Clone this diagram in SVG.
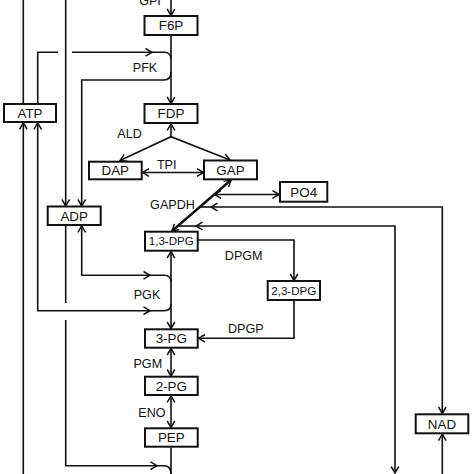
<svg xmlns="http://www.w3.org/2000/svg" width="474" height="474" viewBox="0 0 474 474">
<style>
.box rect{fill:#fff;stroke:#111;stroke-width:2}
.box text{font-family:"Liberation Sans",Arial,sans-serif;font-size:13.4px;fill:#111;text-anchor:middle}
.box text.s{font-size:11.6px}
.lbl{font-family:"Liberation Sans",Arial,sans-serif;font-size:12.6px;fill:#111;text-anchor:middle}
#connectors path{fill:none;stroke:#111;stroke-width:1.6}
#connectors path.thick{stroke-width:2.4}
</style>
<defs>
<marker id="ah" viewBox="-8 -5 9 10" refX="0" refY="0" markerWidth="9" markerHeight="10" markerUnits="userSpaceOnUse" orient="auto-start-reverse">
<path d="M-6.5,-3.8 L0,0 L-6.5,3.8" fill="none" stroke="#111" stroke-width="1.5"/>
</marker>
</defs>
<rect width="474" height="474" fill="#fff"/>
<g id="connectors">
<path d="M171 0 V15.5" marker-end="url(#ah)"/>
<path d="M171 35 V103.5" marker-end="url(#ah)"/>
<path d="M37.7 104 V52.3 H58"/>
<path d="M72 52.3 H152" marker-end="url(#ah)"/>
<path d="M152 52.3 H164 Q171 52.3 171 59"/>
<path d="M171 72 Q171 80 164 80 H81.7 V206" marker-end="url(#ah)"/>
<path d="M65.7 0 V206" marker-end="url(#ah)"/>
<path d="M23.3 0 V104"/>
<path d="M23.3 474 V122.8" marker-end="url(#ah)"/>
<path d="M150 310.7 H37.7 V122.8" marker-start="url(#ah)" marker-end="url(#ah)"/>
<path d="M150 310.7 H164 Q171 310.7 171 304"/>
<path d="M150 275.3 H81.7 V225.8" marker-start="url(#ah)" marker-end="url(#ah)"/>
<path d="M150 275.3 H164 Q171 275.3 171 282"/>
<path d="M65.7 225 V303"/>
<path d="M65.7 320 V465.7 H157" marker-end="url(#ah)"/>
<path d="M157 465.7 H164 Q171 465.7 171 474"/>
<path d="M171 123.8 V136.7" marker-start="url(#ah)"/>
<path d="M120 160.5 L171 136.7 L230 160" marker-start="url(#ah)" marker-end="url(#ah)"/>
<path d="M142.5 172.5 H203.5" marker-start="url(#ah)" marker-end="url(#ah)"/>
<path class="thick" d="M172 231 L231 180" marker-start="url(#ah)" marker-end="url(#ah)"/>
<path d="M214.5 194.5 H279" marker-start="url(#ah)" marker-end="url(#ah)"/>
<path d="M199.5 207 H211"/>
<path d="M211 207 H442.3 V413.5" marker-start="url(#ah)" marker-end="url(#ah)"/>
<path d="M442.3 474 V434.2" marker-end="url(#ah)"/>
<path d="M178 226 H196"/>
<path d="M196 226 H395 V473" marker-start="url(#ah)" marker-end="url(#ah)"/>
<path d="M198 240 H294 V280.5" marker-end="url(#ah)"/>
<path d="M294 300 V338.3 H198.6" marker-end="url(#ah)"/>
<path d="M171 251.5 V328.5" marker-start="url(#ah)" marker-end="url(#ah)"/>
<path d="M171 348.5 V376" marker-start="url(#ah)" marker-end="url(#ah)"/>
<path d="M171 395.8 V427.5" marker-start="url(#ah)" marker-end="url(#ah)"/>
<path d="M171 447.5 V474"/>
</g>
<g id="labels">
<text class="lbl" x="150" y="4.5">GPI</text>
<text class="lbl" x="145" y="71.5">PFK</text>
<text class="lbl" x="129.5" y="138">ALD</text>
<text class="lbl" x="166.7" y="168.5">TPI</text>
<text class="lbl" x="172.5" y="208.5">GAPDH</text>
<text class="lbl" x="243.7" y="260">DPGM</text>
<text class="lbl" x="245.8" y="332.7">DPGP</text>
<text class="lbl" x="147" y="298.5">PGK</text>
<text class="lbl" x="147.8" y="367.5">PGM</text>
<text class="lbl" x="152" y="416.7">ENO</text>
</g>
<g id="F6P" class="box"><rect x="144.5" y="16" width="53" height="19"/><text x="171" y="30.4">F6P</text></g>
<g id="FDP" class="box"><rect x="144.5" y="104" width="53" height="19"/><text x="171" y="118.4">FDP</text></g>
<g id="ATP" class="box"><rect x="4" y="104" width="52" height="18"/><text x="30" y="117.8">ATP</text></g>
<g id="DAP" class="box"><rect x="89" y="161.7" width="52.7" height="17.6"/><text x="115.3" y="175.1">DAP</text></g>
<g id="GAP" class="box"><rect x="204" y="160.5" width="53" height="18.8"/><text x="230.5" y="174.8">GAP</text></g>
<g id="PO4" class="box"><rect x="280" y="182" width="47.3" height="19.7"/><text x="303.7" y="196.6">PO4</text></g>
<g id="ADP" class="box"><rect x="47.7" y="206.5" width="53" height="18.5"/><text x="74.2" y="220.5">ADP</text></g>
<g id="DPG13" class="box"><rect x="145" y="231.7" width="52.7" height="19"/><text class="s" x="171.3" y="245.4">1,3-DPG</text></g>
<g id="DPG23" class="box"><rect x="267.7" y="281" width="52.3" height="19"/><text class="s" x="293.8" y="294.7">2,3-DPG</text></g>
<g id="PG3" class="box"><rect x="145" y="329.3" width="52.7" height="18.4"/><text x="171.3" y="343.3">3-PG</text></g>
<g id="PG2" class="box"><rect x="145" y="376.7" width="52.7" height="18.3"/><text x="171.3" y="390.6">2-PG</text></g>
<g id="PEP" class="box"><rect x="145" y="428.3" width="52.7" height="18.4"/><text x="171.3" y="442.3">PEP</text></g>
<g id="NAD" class="box"><rect x="415.7" y="414.3" width="52.6" height="19"/><text x="442" y="428.6">NAD</text></g>
</svg>
